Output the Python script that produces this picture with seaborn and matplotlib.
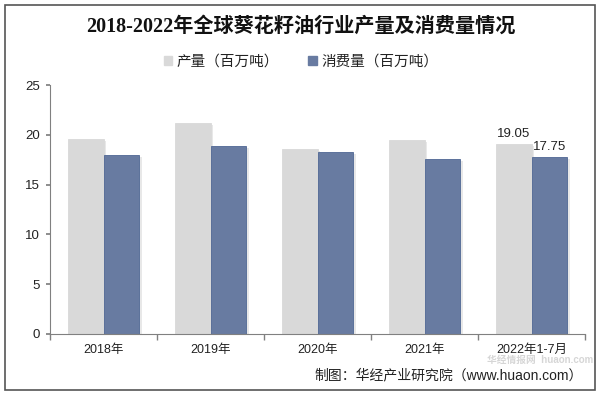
import matplotlib.pyplot as plt
import matplotlib.patheffects as pe
from matplotlib.patches import Rectangle
import pandas as pd
import seaborn as sns

# values
years = ["2018年", "2019年", "2020年", "2021年", "2022年1-7月"]
production = [19.55, 21.2, 18.55, 19.45, 19.05]
consumption = [17.95, 18.85, 18.25, 17.55, 17.75]
series_names = ["产量（百万吨）", "消费量（百万吨）"]
y_ticks = [0, 5, 10, 15, 20, 25]

df = pd.DataFrame({
    "year": years * 2,
    "value": production + consumption,
    "series": [series_names[0]] * len(years) + [series_names[1]] * len(years),
})

sns.set_theme(style="ticks")
plt.rcParams["font.family"] = ["Liberation Sans", "Noto Sans CJK SC", "DejaVu Sans"]

fig = plt.figure(figsize=(6.02, 3.95), dpi=100)
ax = fig.add_axes([50 / 602, 61 / 395, 535 / 602, 249 / 395])

palette = {series_names[0]: "#D9D9D9", series_names[1]: "#687BA1"}
sns.barplot(data=df, x="year", y="value", hue="series", palette=palette,
            width=0.67, saturation=1, ax=ax, legend=False)

shadow = [pe.SimplePatchShadow(offset=(2, -1.5), alpha=0.15, shadow_rgbFace="#666666"), pe.Normal()]
for i, container in enumerate(ax.containers):
    for bar in container:
        bar.set_path_effects(shadow)
        bar.set_edgecolor("#D9D9D9" if i == 0 else "#4F6794")
        bar.set_linewidth(0.6)
    labels = [""] * (len(years) - 1) + [f"{container.datavalues[-1]:.2f}"]
    ax.bar_label(container, labels=labels, padding=3, fontsize=9.5, color="#222222")

ax.set_ylim(0, 25)
ax.set_yticks(y_ticks)
ax.set_xlim(-0.5, len(years) - 0.5)
ax.set_xticks(range(len(years)))
ax.set_xticklabels(years)
ax.set_xlabel("")
ax.set_ylabel("")
ax.tick_params(axis="x", length=0, labelsize=9, colors="#222222", pad=7)
ax.tick_params(axis="y", length=3, labelsize=9.5, colors="#222222", pad=4)
# tick marks between categories
ax.set_xticks([i + 0.5 for i in range(-1, len(years))], minor=True)
ax.tick_params(axis="x", which="minor", length=4, color="#808080")
ax.tick_params(axis="y", color="#808080")
for s in ["top", "right"]:
    ax.spines[s].set_visible(False)
for s in ["left", "bottom"]:
    ax.spines[s].set_color("#808080")
    ax.spines[s].set_linewidth(0.8)

# legend
handles = [Rectangle((0, 0), 1, 1, color=palette[n]) for n in series_names]
fig.legend(handles, series_names, loc="center", bbox_to_anchor=(0.5, 1 - 62 / 395),
           ncol=2, frameon=False, fontsize=10.5, handlelength=0.6, handleheight=0.6,
           handletextpad=0.3, columnspacing=2.0, labelcolor="#222222")

fig.text(0.5, 1 - 27 / 395, "2018-2022年全球葵花籽油行业产量及消费量情况", ha="center", va="center",
         fontsize=14.5, fontweight="bold", family=["Liberation Serif", "Noto Sans CJK SC"],
         color="#111111")
fig.text(583 / 602, 1 - 375 / 395, "制图：华经产业研究院（www.huaon.com）", ha="right", va="center",
         fontsize=10, color="#222222")
fig.text(540 / 602, 1 - 360 / 395, "华经情报网  huaon.com", ha="center", va="center", fontsize=7,
         fontweight="bold", color="#999999", alpha=0.4)

# outer frame
fig.patches.append(Rectangle((5 / 602, 5 / 395), 590 / 602, 385 / 395, transform=fig.transFigure,
                             fill=False, edgecolor="#555555", linewidth=1.2))

fig.savefig("out.png", dpi=100)
